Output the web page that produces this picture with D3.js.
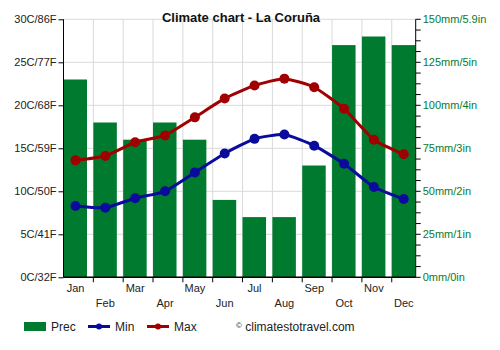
<!DOCTYPE html>
<html><head><meta charset="utf-8">
<script src="https://cdn.jsdelivr.net/npm/d3@7"></script>
<style>body{margin:0;background:#fff}svg{display:block;font-family:"Liberation Sans",Arial,sans-serif}</style>
</head><body>
<script>
const months = ["Jan","Feb","Mar","Apr","May","Jun","Jul","Aug","Sep","Oct","Nov","Dec"];
const prec = [115,90,80,90,80,45,35,35,65,135,140,135];
const tmin = [8.3,8.1,9.2,10.0,12.2,14.4,16.1,16.6,15.3,13.2,10.5,9.1];
const tmax = [13.6,14.1,15.7,16.5,18.6,20.8,22.3,23.1,22.1,19.6,16.0,14.3];
const leftTicks = [0,5,10,15,20,25,30];
const leftLabels = ["0C/32F","5C/41F","10C/50F","15C/59F","20C/68F","25C/77F","30C/86F"];
const rightTicks = [0,25,50,75,100,125,150];
const rightLabels = ["0mm/0in","25mm/1in","50mm/2in","75mm/3in","100mm/4in","125mm/5in","150mm/5.9in"];

const W=500,H=350;
const x0=63.5, step=29.84, xr=415.7, yTop=19.3, yBot=277.3;
const svg=d3.select("body").append("svg").attr("width",W).attr("height",H);
const x=d3.scaleBand().domain(months).range([x0,x0+12*step]).paddingInner(0).paddingOuter(0);
const yT=d3.scaleLinear().domain([0,30]).range([yBot,yTop]);
const yP=d3.scaleLinear().domain([0,150]).range([yBot,yTop]);

// grid
const g=svg.append("g");
g.selectAll(".hg").data(leftTicks).join("line").attr("x1",x0).attr("x2",xr)
 .attr("y1",d=>yT(d)).attr("y2",d=>yT(d)).attr("stroke","#d9d9d9").attr("stroke-width",1);
g.selectAll(".vg").data(months.slice(1)).join("line").attr("x1",d=>x(d)).attr("x2",d=>x(d))
 .attr("y1",yTop).attr("y2",yBot).attr("stroke","#d9d9d9").attr("stroke-width",1);

// bars
const bw=23.5;
svg.selectAll(".bar").data(prec).join("rect")
 .attr("x",(d,i)=>x(months[i])).attr("width",(d,i)=>Math.min(bw,xr-x(months[i])))
 .attr("y",d=>yP(d)).attr("height",d=>yBot-yP(d)).attr("fill","#007a2e");

// axes
const leftAxis=d3.axisLeft(yT).tickValues(leftTicks).tickFormat((d,i)=>leftLabels[i]).tickSize(5).tickPadding(2);
const la=svg.append("g").attr("transform",`translate(${x0},0)`).call(leftAxis);
la.select(".domain").attr("d",`M0,${yTop}V${yBot}`);
la.selectAll("text").attr("font-size",11).attr("fill","#222").attr("font-family","Liberation Sans, Arial, sans-serif");

const minorTicks=d3.range(0,150.01,6.25);
const ra=svg.append("g").attr("transform",`translate(${xr},0)`);
ra.append("line").attr("x1",0).attr("x2",0).attr("y1",yTop).attr("y2",yBot).attr("stroke","#000");
ra.selectAll(".mt").data(minorTicks).join("line").attr("x1",0).attr("x2",5)
 .attr("y1",d=>yP(d)).attr("y2",d=>yP(d)).attr("stroke","#000");
ra.selectAll(".rl").data(rightTicks).join("text").attr("x",7).attr("y",d=>yP(d)).attr("dy","0.35em")
 .attr("font-size",11).attr("fill","#0a7a2a").text((d,i)=>rightLabels[i]);

// bottom axis
const ba=svg.append("g");
ba.append("line").attr("x1",x0).attr("x2",xr).attr("y1",yBot).attr("y2",yBot).attr("stroke","#000").attr("stroke-width",1.5);
ba.selectAll(".bt").data(months.slice(1)).join("line").attr("x1",d=>x(d)).attr("x2",d=>x(d))
 .attr("y1",yBot).attr("y2",yBot+5).attr("stroke","#000");
const px=m=>x(m)+12;
ba.selectAll(".bl").data(months).join("text").attr("x",d=>px(d))
 .attr("y",(d,i)=>i%2===0?292:307).attr("text-anchor","middle").attr("font-size",11).attr("fill","#222").text(d=>d);

// lines
function series(data,color){
  const line=d3.line().x((d,i)=>px(months[i])).y(d=>yT(d)).curve(d3.curveCardinal.tension(0.5));
  svg.append("path").datum(data).attr("d",line).attr("fill","none").attr("stroke",color).attr("stroke-width",3);
  svg.selectAll(null).data(data).join("circle").attr("cx",(d,i)=>px(months[i])).attr("cy",d=>yT(d)).attr("r",5).attr("fill",color);
}
series(tmin,"#0a0a9c");
series(tmax,"#a00000");

// title
svg.append("text").attr("x",241).attr("y",22).attr("text-anchor","middle").attr("font-size",13).attr("font-weight","bold").attr("fill","#111").text("Climate chart - La Coruña");

// legend
const lg=svg.append("g");
lg.append("rect").attr("x",24).attr("y",322).attr("width",22).attr("height",9).attr("fill","#007a2e");
lg.append("text").attr("x",51).attr("y",331).attr("font-size",12).attr("fill","#222").text("Prec");
lg.append("line").attr("x1",88).attr("x2",110).attr("y1",326.5).attr("y2",326.5).attr("stroke","#0a0a9c").attr("stroke-width",3);
lg.append("circle").attr("cx",99).attr("cy",326.5).attr("r",3).attr("fill","#0a0a9c");
lg.append("text").attr("x",115).attr("y",331).attr("font-size",12).attr("fill","#222").text("Min");
lg.append("line").attr("x1",147).attr("x2",169).attr("y1",326.5).attr("y2",326.5).attr("stroke","#a00000").attr("stroke-width",3);
lg.append("circle").attr("cx",158).attr("cy",326.5).attr("r",3).attr("fill","#a00000");
lg.append("text").attr("x",174).attr("y",331).attr("font-size",12).attr("fill","#222").text("Max");
lg.append("text").attr("x",236).attr("y",331).attr("font-size",12).attr("fill","#222")
 .html('<tspan font-size="8" dy="-3">©</tspan><tspan dy="3"> climatestotravel.com</tspan>');
</script>
</body></html>
